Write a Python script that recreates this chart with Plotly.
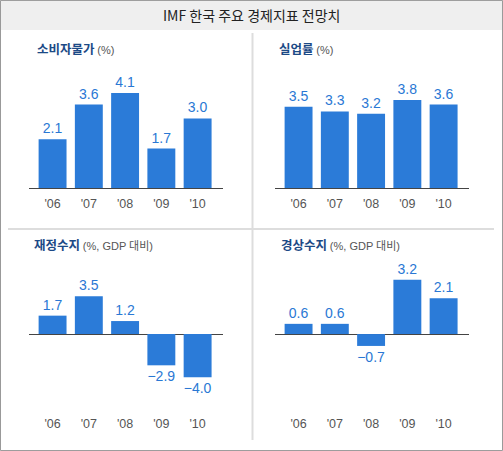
import plotly.graph_objects as go

# --- data ---
years = ["'06", "'07", "'08", "'09", "'10"]
cpi = [2.1, 3.6, 4.1, 1.7, 3.0]            # 소비자물가 (%)
unemployment = [3.5, 3.3, 3.2, 3.8, 3.6]   # 실업률 (%)
fiscal = [1.7, 3.5, 1.2, -2.9, -4.0]       # 재정수지 (%, GDP 대비)
current_acct = [0.6, 0.6, -0.7, 3.2, 2.1]  # 경상수지 (%, GDP 대비)

panel_titles = ['소비자물가', '실업률', '재정수지', '경상수지']
panel_units = ['(%)', '(%)', '(%, GDP 대비)', '(%, GDP 대비)']
main_title = 'IMF 한국 주요 경제지표 전망치'

BAR = '#2b7bd8'
LABEL = '#2a78d4'
NAVY = '#1c4a86'
W, H = 503, 451


def px_x(x):
    return x / W


def px_y(y):
    return 1 - y / H


def fmt(v):
    s = f'{v:.1f}'
    return s.replace('-', '\u2212')


fig = go.Figure()

panels = [
    # values, x domain (px), y domain (px top, bottom), y range
    (cpi, (29, 223), (60, 189.2), [-0.05, 5.52]),
    (unemployment, (275, 469), (60, 189.2), [-0.05, 5.52]),
    (fiscal, (29, 223), (262, 410), [-7.04, 6.67]),
    (current_acct, (275, 469), (262, 410), [-4.47, 4.24]),
]
tick_gap = [3, 3, 2, 2]

for i, (vals, (xa, xb), (ya, yb), yr) in enumerate(panels):
    n = '' if i == 0 else str(i + 1)
    fig.add_trace(go.Bar(
        x=years, y=vals,
        xaxis='x' + n, yaxis='y' + n,
        marker=dict(color=BAR, line=dict(width=0)),
        text=[fmt(v) for v in vals],
        textposition='outside',
        textfont=dict(family='Liberation Sans', size=14, color=LABEL),
        cliponaxis=False,
        showlegend=False,
        hoverinfo='skip',
    ))
    fig.update_layout({
        'xaxis' + n: dict(
            domain=[px_x(xa), px_x(xb)], anchor='y' + n,
            range=[-0.65, 4.7], showgrid=False, showline=False, zeroline=False,
            ticks='outside', ticklen=tick_gap[i], tickcolor='rgba(0,0,0,0)',
            tickfont=dict(family='Liberation Sans', size=12.5, color='#555'),
            fixedrange=True,
        ),
        'yaxis' + n: dict(
            domain=[px_y(yb), px_y(ya)], anchor='x' + n,
            range=yr, showgrid=False, showticklabels=False, showline=False,
            zeroline=True, zerolinecolor='#444', zerolinewidth=1,
            fixedrange=True,
        ),
    })

# panel titles
title_pos = [(35, 48), (277, 48), (32, 244), (279, 244)]
for (tx, ty), t, u in zip(title_pos, panel_titles, panel_units):
    fig.add_annotation(
        x=px_x(tx), y=px_y(ty), xref='paper', yref='paper',
        xanchor='left', yanchor='middle', showarrow=False,
        text=(f"<b>{t}</b> <span style=\"font-family:'Liberation Sans','Noto Sans CJK KR';"
              f"font-size:11px;color:#555\">{u}</span>"),
        font=dict(family='Noto Sans CJK KR', size=12.5, color=NAVY),
    )

fig.add_annotation(
    x=px_x(251), y=px_y(15), xref='paper', yref='paper',
    xanchor='center', yanchor='middle', showarrow=False,
    text=main_title,
    font=dict(family='Noto Sans CJK KR', size=14, color='#222'),
)

# header band, dividers, frame
fig.add_shape(type='rect', xref='paper', yref='paper', x0=0, x1=1, y0=px_y(30), y1=1,
              fillcolor='#efefef', line=dict(width=0), layer='below')
fig.add_shape(type='line', xref='paper', yref='paper', x0=px_x(252.5), x1=px_x(252.5),
              y0=px_y(33), y1=px_y(440), line=dict(color='#ddd', width=2))
fig.add_shape(type='line', xref='paper', yref='paper', x0=px_x(8), x1=px_x(494),
              y0=px_y(229), y1=px_y(229), line=dict(color='#ddd', width=2))
fig.add_shape(type='rect', xref='paper', yref='paper', x0=0.001, x1=0.999, y0=0.001, y1=0.999,
              line=dict(color='#999', width=1))

fig.update_layout(
    width=W, height=H,
    margin=dict(l=0, r=0, t=0, b=0),
    paper_bgcolor='white', plot_bgcolor='rgba(0,0,0,0)',
    bargap=0.23,
    font=dict(family='Liberation Sans'),
)

fig.write_html('out.html', config={'displayModeBar': False},
               post_script="document.body.style.margin='0';document.body.style.overflow='hidden';")
